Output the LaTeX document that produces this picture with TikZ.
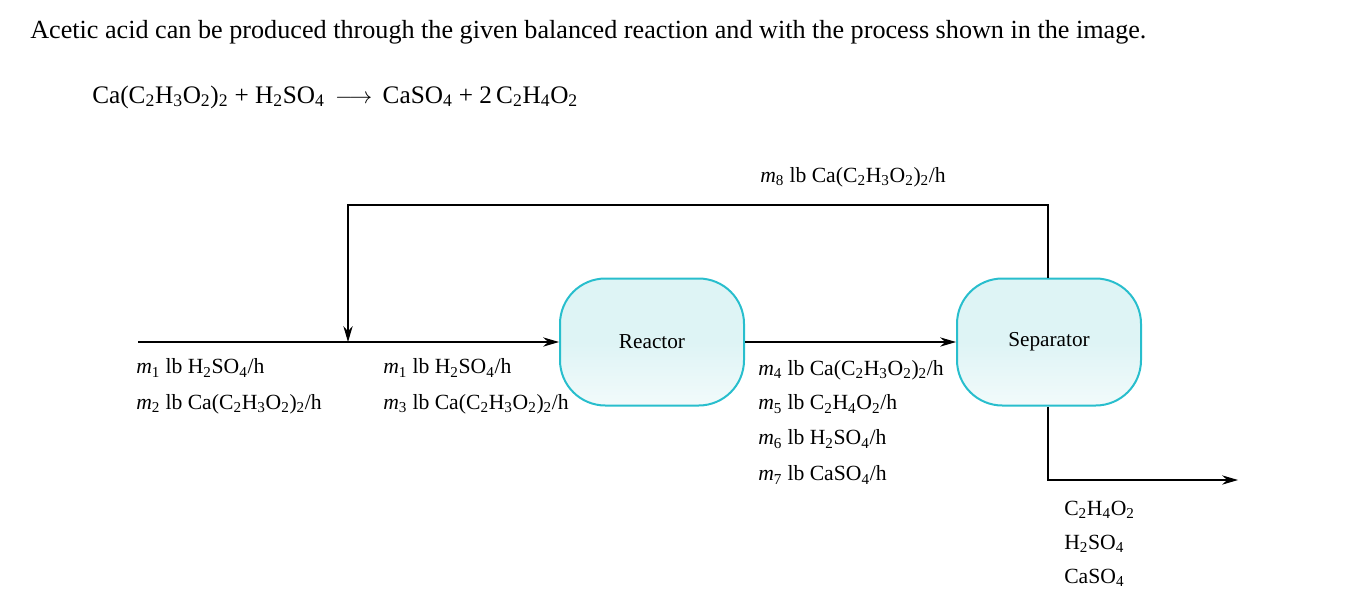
\documentclass[tikz,border=0pt]{standalone}
\usepackage{fontspec}
\setmainfont{Liberation Serif}
\usetikzlibrary{positioning,arrows.meta}
\definecolor{unitedge}{RGB}{40,190,205}
\definecolor{unitfill}{RGB}{222,244,245}
\newcommand{\sbs}[1]{\textsubscript{#1}}
\newcommand{\flow}[1]{\textit{m}\sbs{#1}}
\begin{document}
\begin{tikzpicture}[x=0.02646cm,y=-0.02646cm,
    unit/.style={draw=unitedge, line width=1.5pt, top color=unitfill, bottom color=unitfill!40,
      middle color=unitfill, rounded corners=12mm,
      minimum width=184*0.02646cm, minimum height=127*0.02646cm, font=\fontsize{16}{19}\selectfont},
    lbl/.style={anchor=west, inner sep=0pt, font=\fontsize{16.3}{19}\selectfont},
    pipe/.style={line width=0.8pt},
    arr/.style={pipe,-{Stealth[length=12pt,width=7pt]}}]
  \useasboundingbox (0,0) rectangle (1352,613);
  \node[anchor=west, inner sep=0pt, font=\fontsize{19.7}{23}\selectfont] (intro) at (30,32)
    {Acetic acid can be produced through the given balanced reaction and with the process shown in the image.};
  \node[anchor=west, inner sep=0pt, font=\fontsize{19}{23}\selectfont] (eqn) at (92,97)
    {Ca(C\sbs2H\sbs3O\sbs2)\sbs2 + H\sbs2SO\sbs4 \,$\longrightarrow$\, CaSO\sbs4 + 2\,C\sbs2H\sbs4O\sbs2};
  % units
  \node[unit] (reactor) at (652,342) {Reactor};
  \node[unit] (sep) at (1049,342) {Separator};
  % streams
  \coordinate (feed) at (138,342);
  \coordinate (mix) at (348,342);
  \coordinate (rtop) at (348,205);
  \coordinate (stop) at (1048,205);
  \coordinate (sbot) at (1048,480);
  \coordinate (prod) at (1238,480);
  \draw[pipe] (feed) -- (mix);
  \draw[arr] (mix) -- (reactor.west);
  \draw[arr] (reactor.east) -- (sep.west);
  \draw[arr] (sep.north -| stop) -- (stop) -- (rtop) -- (mix);
  \draw[arr] (sep.south -| sbot) -- (sbot) -- (prod);
  % labels
  \node[lbl] (l1) at (136,368) {\flow1 lb H\sbs2SO\sbs4/h};
  \node[lbl] (l2) at (136,404) {\flow2 lb Ca(C\sbs2H\sbs3O\sbs2)\sbs2/h};
  \node[lbl] (l3) at (383,368) {\flow1 lb H\sbs2SO\sbs4/h};
  \node[lbl] (l4) at (383,404) {\flow3 lb Ca(C\sbs2H\sbs3O\sbs2)\sbs2/h};
  \node[lbl] (l5) at (758,370) {\flow4 lb Ca(C\sbs2H\sbs3O\sbs2)\sbs2/h};
  \node[lbl] (l6) at (758,404) {\flow5 lb C\sbs2H\sbs4O\sbs2/h};
  \node[lbl] (l7) at (758,439) {\flow6 lb H\sbs2SO\sbs4/h};
  \node[lbl] (l8) at (758,475) {\flow7 lb CaSO\sbs4/h};
  \node[lbl] (l9) at (760,177) {\flow8 lb Ca(C\sbs2H\sbs3O\sbs2)\sbs2/h};
  \node[lbl] (o1) at (1064,510) {C\sbs2H\sbs4O\sbs2};
  \node[lbl] (o2) at (1064,544) {H\sbs2SO\sbs4};
  \node[lbl] (o3) at (1064,578) {CaSO\sbs4};
\end{tikzpicture}
\end{document}
